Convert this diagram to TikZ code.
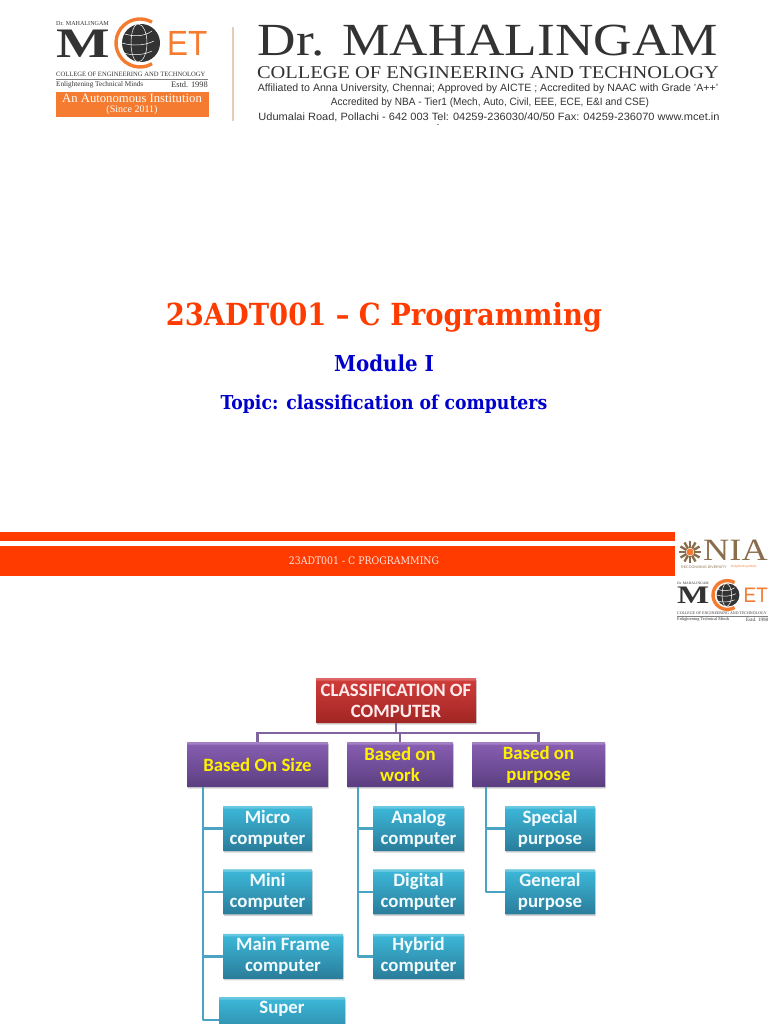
\documentclass[tikz,border=0pt]{standalone}
\usepackage{fontspec}
\setmainfont{Liberation Serif}
\setsansfont{Liberation Sans}
\newfontfamily\titlefont{DejaVu Serif Condensed}
\newfontfamily\boxfont{Carlito}
\usetikzlibrary{positioning,shadows}
\definecolor{BandRed}{HTML}{FF3B00}
\definecolor{LogoOrange}{HTML}{F47B30}
\definecolor{LogoDark}{HTML}{333333}
\definecolor{LogoRule}{HTML}{E8CDB6}
\definecolor{NiaBrown}{HTML}{8A6D4B}
\definecolor{TitleBlue}{HTML}{0000CC}
\definecolor{StemBlue}{HTML}{4BA3C3}
\definecolor{BranchPurple}{HTML}{8064A2}
\definecolor{RootTop}{HTML}{D23C3A}
\definecolor{RootBottom}{HTML}{A02624}
\definecolor{GroupTop}{HTML}{8A5FB4}
\definecolor{GroupBottom}{HTML}{5A3E80}
\definecolor{LeafTop}{HTML}{3DB9DA}
\definecolor{LeafBottom}{HTML}{2A7C9A}
\tikzset{
  mcetmark/.pic={
    \node[font=\rmfamily\bfseries,text=LogoDark,xscale=1.35,inner sep=0pt] (big) at (27,1) {\fontsize{42}{42}\selectfont M};
    \node[font=\rmfamily,text=LogoDark,anchor=west,inner sep=0pt] (drname) at (0,-19.5) {\fontsize{6.1}{7}\selectfont Dr. MAHALINGAM};
    \draw[LogoOrange,line width=3.4pt] (84,0) ++(60:24) arc[start angle=60,end angle=300,radius=24];
    \fill[LogoDark] (85,0) circle[radius=19];
    \begin{scope}
      \clip (85,0) circle[radius=19];
      \draw[white,line width=.5pt] (82,-19) arc[start angle=-90,end angle=90,x radius=9,y radius=19]
        (82,-19) arc[start angle=-90,end angle=-270,x radius=7,y radius=19]
        (66,-10) .. controls (76,-6) and (88,-6) .. (96,-12)
        (66,0) .. controls (76,3) and (88,3) .. (98,-2)
        (68,10) .. controls (76,13) and (88,12) .. (96,8);
    \end{scope}
    \node[font=\sffamily,text=LogoOrange,anchor=west,inner sep=0pt,xscale=.9] (etmark) at (111,0) {\fontsize{35}{35}\selectfont ET};
    \node[font=\rmfamily,text=LogoDark,anchor=west,inner sep=0pt] (collegeline) at (0,31) {\fontsize{6.6}{7}\selectfont COLLEGE OF ENGINEERING AND TECHNOLOGY};
    \draw[gray,line width=.5pt] (0,36) -- (152,36);
    \node[font=\rmfamily,text=LogoDark,anchor=west,inner sep=0pt] (mindsline) at (0,41.5) {\fontsize{7.2}{7.5}\selectfont Enlightening Technical Minds};
    \node[font=\rmfamily,text=LogoDark,anchor=east,inner sep=0pt] (estdline) at (152,41.5) {\fontsize{8.4}{8.5}\selectfont Estd. 1998};
  },
  headline/.style={font=\sffamily,text=LogoDark,inner sep=0pt},
  titleline/.style={font=\titlefont\bfseries,anchor=base,inner sep=0pt},
  treebox/.style={rounded corners=.5pt,minimum height=45pt,inner sep=0pt,align=center,
    font=\boxfont\bfseries\fontsize{18.8}{21}\selectfont,drop shadow={shadow xshift=.8pt,shadow yshift=-1.6pt,opacity=.35},
    path picture={\fill[white,opacity=.22] (path picture bounding box.north west) rectangle ([yshift=-2.5pt]path picture bounding box.north east);}},
  rootbox/.style={treebox,top color=RootTop,bottom color=RootBottom,text=white!92!red},
  groupbox/.style={treebox,top color=GroupTop,bottom color=GroupBottom,text=yellow},
  leafbox/.style={treebox,top color=LeafTop,bottom color=LeafBottom,text=white!95!cyan},
  branch/.style={draw=BranchPurple,line width=2.4pt},
  stem/.style={draw=StemBlue,line width=2.4pt,line join=round}
}
\begin{document}
\begin{tikzpicture}[x=1pt,y=-1pt]
  \useasboundingbox (0,0) rectangle (768,1024);
  % college letterhead
  \pic (toplogo) at (56,43) {mcetmark};
  \fill[LogoOrange] (56,92) rectangle (209,117);
  \node[text=white,inner sep=0pt] (autonomous) at (132,98.5) {\fontsize{12.7}{13}\selectfont An Autonomous Institution};
  \node[text=white,inner sep=0pt] (since) at (132,110.5) {\fontsize{10}{10}\selectfont (Since 2011)};
  \draw[LogoRule,line width=1.2pt] (233,27) -- (233,121);
  \node[font=\rmfamily,text=LogoDark,inner sep=0pt,xscale=1.158] (collegename) at (488,41) {\fontsize{46}{46}\selectfont Dr. MAHALINGAM};
  \node[font=\rmfamily,text=LogoDark,inner sep=0pt,xscale=1.135] (collegefull) at (488,73) {\fontsize{18}{18}\selectfont COLLEGE OF ENGINEERING AND TECHNOLOGY};
  \node[headline] (affiliated) at (488,89) {\fontsize{10.6}{12}\selectfont Affiliated to Anna University, Chennai; Approved by AICTE ; Accredited by NAAC with Grade 'A++'};
  \node[headline,xscale=.95] (accredited) at (490,103) {\fontsize{10.6}{12}\selectfont Accredited by NBA - Tier1 (Mech, Auto, Civil, EEE, ECE, E\&I and CSE)};
  \node[headline,xscale=1.04] (address) at (489,117) {\fontsize{10.6}{12}\selectfont Udumalai Road, Pollachi - 642 003 Tel: 04259-236030/40/50 Fax: 04259-236070 www.mcet.in};
  \fill[LogoDark] (438,124.5) circle[radius=.6];
  % title block
  \node[titleline,text=BandRed] (course) at (384,325) {\fontsize{30.4}{36}\selectfont 23ADT001 – C Programming};
  \node[titleline,text=TitleBlue] (module) at (384,371) {\fontsize{22}{24}\selectfont Module I};
  \node[titleline,text=TitleBlue] (topic) at (384,409) {\fontsize{19.2}{22}\selectfont Topic: classification of computers};
  % footer band
  \fill[BandRed] (0,532) rectangle (675,541);
  \fill[BandRed] (0,546) rectangle (675,576);
  \node[font=\titlefont,text=white!90!red,inner sep=0pt] (footer) at (364,561) {\fontsize{10.4}{12}\selectfont 23ADT001 - C PROGRAMMING};
  % nia mark
  \foreach \ang in {0,30,...,330}
    \draw[NiaBrown,line width=2.4pt] (690,552) ++(\ang:4) -- ++(\ang:7);
  \fill[LogoOrange] (690,552) circle[radius=3.5];
  \node[font=\rmfamily,text=NiaBrown,anchor=west,inner sep=0pt,xscale=1.17] (nia) at (703,550) {\fontsize{31}{31}\selectfont NIA};
  \node[font=\sffamily,text=NiaBrown,anchor=west,inner sep=0pt] (recognising) at (681,567) {\fontsize{3.6}{4}\selectfont RECOGNISING DIVERSITY};
  \node[font=\sffamily,text=LogoOrange,anchor=west,inner sep=0pt] (enlighten) at (731,567) {\fontsize{3}{4}\selectfont Enlightening Minds};
  \pic[scale=.6,transform shape] (sidelogo) at (677,595) {mcetmark};
  % classification tree
  \node[rootbox,minimum width=160pt] (root) at (396,700.5) {CLASSIFICATION OF\\COMPUTER};
  \node[groupbox,minimum width=141pt] (size) at (257.5,764.5) {Based On Size};
  \node[groupbox,minimum width=106pt] (work) at (400,764.5) {Based on\\work};
  \node[groupbox,minimum width=133pt] (purpose) at (538.5,764.5) {Based on\\purpose};
  \node[leafbox,minimum width=89pt] (micro) at (267.5,828.5) {Micro\\computer};
  \node[leafbox,minimum width=89pt,below=18pt of micro] (mini) {Mini\\computer};
  \node[leafbox,minimum width=120pt,below=19pt of mini.south west,anchor=north west] (mainframe) {Main Frame\\computer};
  \node[leafbox,minimum width=126pt,below=18pt of mainframe.south west,anchor=north west,xshift=-4pt] (super) {Super\\\vphantom{computer}};
  \node[leafbox,minimum width=91pt] (analog) at (418.5,828.5) {Analog\\computer};
  \node[leafbox,minimum width=91pt,below=18pt of analog] (digital) {Digital\\computer};
  \node[leafbox,minimum width=91pt,below=19pt of digital] (hybrid) {Hybrid\\computer};
  \node[leafbox,minimum width=90pt] (special) at (550,828.5) {Special\\purpose};
  \node[leafbox,minimum width=90pt,below=18pt of special] (general) {General\\purpose};
  \coordinate (rootjoint) at (396,733);
  \coordinate (sizestem) at (203,787);
  \coordinate (workstem) at (358,787);
  \coordinate (purposestem) at (486,787);
  \draw[branch] (root.south) -- (rootjoint);
  \foreach \group in {size,work,purpose}
    \draw[branch] (rootjoint) -| (\group.north);
  \foreach \leaf in {micro,mini,mainframe,super}
    \draw[stem] (sizestem) |- (\leaf.west);
  \foreach \leaf in {analog,digital,hybrid}
    \draw[stem] (workstem) |- (\leaf.west);
  \foreach \leaf in {special,general}
    \draw[stem] (purposestem) |- (\leaf.west);
\end{tikzpicture}
\end{document}
